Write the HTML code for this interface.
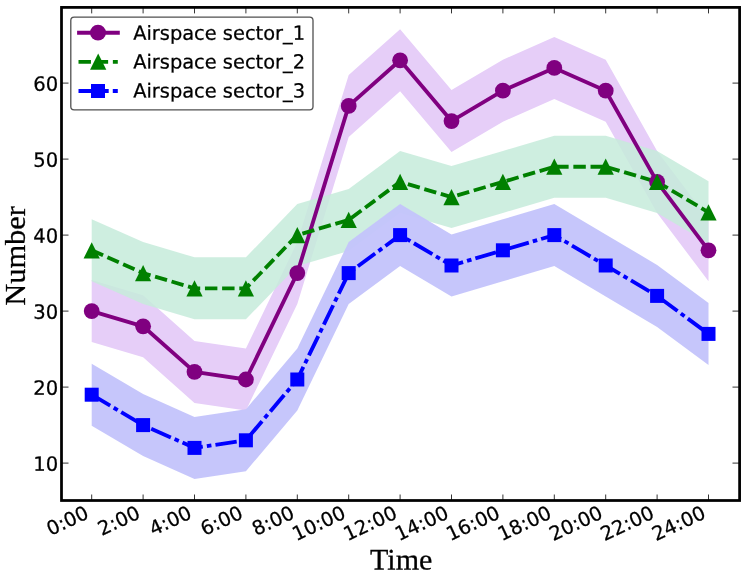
<!DOCTYPE html><html><head><meta charset="utf-8"><title>Airspace sectors</title>
<style>html,body{margin:0;padding:0;background:#fff}svg{display:block}.t{font-family:"DejaVu Sans","Liberation Sans",sans-serif;fill:#000;stroke:#000;stroke-width:0.25}.s{font-family:"Liberation Serif","DejaVu Serif",serif;fill:#000;stroke:#000;stroke-width:0.3}</style></head><body>
<svg width="745" height="574" viewBox="0 0 745 574">
<rect width="745" height="574" fill="#fff"/>
<polygon points="91.70,280.09 143.10,295.29 194.50,340.89 245.90,348.49 297.30,242.09 348.70,74.89 400.10,29.29 451.50,90.09 502.90,59.69 554.30,36.89 605.70,59.69 657.10,150.89 708.50,219.29 708.50,281.31 657.10,212.91 605.70,121.71 554.30,98.91 502.90,121.71 451.50,152.11 400.10,91.31 348.70,136.91 297.30,304.11 245.90,410.51 194.50,402.91 143.10,357.31 91.70,342.11" fill="#e6cef8" fill-opacity="1"/>
<polygon points="91.70,219.29 143.10,242.09 194.50,257.29 245.90,257.29 297.30,204.09 348.70,188.89 400.10,150.89 451.50,166.09 502.90,150.89 554.30,135.69 605.70,135.69 657.10,150.89 708.50,181.29 708.50,243.31 657.10,212.91 605.70,197.71 554.30,197.71 502.90,212.91 451.50,228.11 400.10,212.91 348.70,250.91 297.30,266.11 245.90,319.31 194.50,319.31 143.10,304.11 91.70,281.31" fill="#c6ebdb" fill-opacity="0.86"/>
<polygon points="91.70,363.69 143.10,394.09 194.50,416.89 245.90,409.29 297.30,348.49 348.70,242.09 400.10,204.09 451.50,234.49 502.90,219.29 554.30,204.09 605.70,234.49 657.10,264.89 708.50,302.89 708.50,364.91 657.10,326.91 605.70,296.51 554.30,266.11 502.90,281.31 451.50,296.51 400.10,266.11 348.70,304.11 297.30,410.51 245.90,471.31 194.50,478.91 143.10,456.11 91.70,425.71" fill="#c4c4fb" fill-opacity="0.96"/>
<polyline points="91.70,311.10 143.10,326.30 194.50,371.90 245.90,379.50 297.30,273.10 348.70,105.90 400.10,60.30 451.50,121.10 502.90,90.70 554.30,67.90 605.70,90.70 657.10,181.90 708.50,250.30" fill="none" stroke="#800080" stroke-width="3.85" stroke-linejoin="round"/>
<polyline points="91.70,250.30 143.10,273.10 194.50,288.30 245.90,288.30 297.30,235.10 348.70,219.90 400.10,181.90 451.50,197.10 502.90,181.90 554.30,166.70 605.70,166.70 657.10,181.90 708.50,212.30" fill="none" stroke="#008000" stroke-width="3.85" stroke-dasharray="12.45,4.73" stroke-linejoin="round"/>
<polyline points="91.70,394.70 143.10,425.10 194.50,447.90 245.90,440.30 297.30,379.50 348.70,273.10 400.10,235.10 451.50,265.50 502.90,250.30 554.30,235.10 605.70,265.50 657.10,295.90 708.50,333.90" fill="none" stroke="#0000ff" stroke-width="3.85" stroke-dasharray="21.5,4.1,4.6,4.08" stroke-linejoin="round"/>
<circle cx="91.70" cy="311.10" r="7.9" fill="#800080"/>
<circle cx="143.10" cy="326.30" r="7.9" fill="#800080"/>
<circle cx="194.50" cy="371.90" r="7.9" fill="#800080"/>
<circle cx="245.90" cy="379.50" r="7.9" fill="#800080"/>
<circle cx="297.30" cy="273.10" r="7.9" fill="#800080"/>
<circle cx="348.70" cy="105.90" r="7.9" fill="#800080"/>
<circle cx="400.10" cy="60.30" r="7.9" fill="#800080"/>
<circle cx="451.50" cy="121.10" r="7.9" fill="#800080"/>
<circle cx="502.90" cy="90.70" r="7.9" fill="#800080"/>
<circle cx="554.30" cy="67.90" r="7.9" fill="#800080"/>
<circle cx="605.70" cy="90.70" r="7.9" fill="#800080"/>
<circle cx="657.10" cy="181.90" r="7.9" fill="#800080"/>
<circle cx="708.50" cy="250.30" r="7.9" fill="#800080"/>
<polygon points="91.70,242.20 83.60,258.40 99.80,258.40" fill="#008000"/>
<polygon points="143.10,265.00 135.00,281.20 151.20,281.20" fill="#008000"/>
<polygon points="194.50,280.20 186.40,296.40 202.60,296.40" fill="#008000"/>
<polygon points="245.90,280.20 237.80,296.40 254.00,296.40" fill="#008000"/>
<polygon points="297.30,227.00 289.20,243.20 305.40,243.20" fill="#008000"/>
<polygon points="348.70,211.80 340.60,228.00 356.80,228.00" fill="#008000"/>
<polygon points="400.10,173.80 392.00,190.00 408.20,190.00" fill="#008000"/>
<polygon points="451.50,189.00 443.40,205.20 459.60,205.20" fill="#008000"/>
<polygon points="502.90,173.80 494.80,190.00 511.00,190.00" fill="#008000"/>
<polygon points="554.30,158.60 546.20,174.80 562.40,174.80" fill="#008000"/>
<polygon points="605.70,158.60 597.60,174.80 613.80,174.80" fill="#008000"/>
<polygon points="657.10,173.80 649.00,190.00 665.20,190.00" fill="#008000"/>
<polygon points="708.50,204.20 700.40,220.40 716.60,220.40" fill="#008000"/>
<rect x="84.70" y="387.70" width="14.00" height="14.00" fill="#0000ff"/>
<rect x="136.10" y="418.10" width="14.00" height="14.00" fill="#0000ff"/>
<rect x="187.50" y="440.90" width="14.00" height="14.00" fill="#0000ff"/>
<rect x="238.90" y="433.30" width="14.00" height="14.00" fill="#0000ff"/>
<rect x="290.30" y="372.50" width="14.00" height="14.00" fill="#0000ff"/>
<rect x="341.70" y="266.10" width="14.00" height="14.00" fill="#0000ff"/>
<rect x="393.10" y="228.10" width="14.00" height="14.00" fill="#0000ff"/>
<rect x="444.50" y="258.50" width="14.00" height="14.00" fill="#0000ff"/>
<rect x="495.90" y="243.30" width="14.00" height="14.00" fill="#0000ff"/>
<rect x="547.30" y="228.10" width="14.00" height="14.00" fill="#0000ff"/>
<rect x="598.70" y="258.50" width="14.00" height="14.00" fill="#0000ff"/>
<rect x="650.10" y="288.90" width="14.00" height="14.00" fill="#0000ff"/>
<rect x="701.50" y="326.90" width="14.00" height="14.00" fill="#0000ff"/>
<path d="M91.70 500.50v-6.00M91.70 7.40v6.00M143.10 500.50v-6.00M143.10 7.40v6.00M194.50 500.50v-6.00M194.50 7.40v6.00M245.90 500.50v-6.00M245.90 7.40v6.00M297.30 500.50v-6.00M297.30 7.40v6.00M348.70 500.50v-6.00M348.70 7.40v6.00M400.10 500.50v-6.00M400.10 7.40v6.00M451.50 500.50v-6.00M451.50 7.40v6.00M502.90 500.50v-6.00M502.90 7.40v6.00M554.30 500.50v-6.00M554.30 7.40v6.00M605.70 500.50v-6.00M605.70 7.40v6.00M657.10 500.50v-6.00M657.10 7.40v6.00M708.50 500.50v-6.00M708.50 7.40v6.00M61.50 463.10h7.00M739.60 463.10h-7.10M61.50 387.10h7.00M739.60 387.10h-7.10M61.50 311.10h7.00M739.60 311.10h-7.10M61.50 235.10h7.00M739.60 235.10h-7.10M61.50 159.10h7.00M739.60 159.10h-7.10M61.50 83.10h7.00M739.60 83.10h-7.10" stroke="#000" stroke-width="0.8" fill="none"/>
<rect x="61.50" y="7.40" width="678.10" height="493.10" fill="none" stroke="#000" stroke-width="2.75"/>
<text class="t" transform="translate(58.2,470.70) rotate(0.03)" font-size="19.6" text-anchor="end" stroke-width="0.33">10</text>
<text class="t" transform="translate(58.2,394.70) rotate(0.03)" font-size="19.6" text-anchor="end" stroke-width="0.33">20</text>
<text class="t" transform="translate(58.2,318.70) rotate(0.03)" font-size="19.6" text-anchor="end" stroke-width="0.33">30</text>
<text class="t" transform="translate(58.2,242.70) rotate(0.03)" font-size="19.6" text-anchor="end" stroke-width="0.33">40</text>
<text class="t" transform="translate(58.2,166.70) rotate(0.03)" font-size="19.6" text-anchor="end" stroke-width="0.33">50</text>
<text class="t" transform="translate(58.2,90.70) rotate(0.03)" font-size="19.6" text-anchor="end" stroke-width="0.33">60</text>
<text class="t" transform="translate(90.10,517.50) rotate(-25)" font-size="19.5" text-anchor="end" stroke-width="0.45">0:00</text>
<text class="t" transform="translate(141.50,517.50) rotate(-25)" font-size="19.5" text-anchor="end" stroke-width="0.45">2:00</text>
<text class="t" transform="translate(192.90,517.50) rotate(-25)" font-size="19.5" text-anchor="end" stroke-width="0.45">4:00</text>
<text class="t" transform="translate(244.30,517.50) rotate(-25)" font-size="19.5" text-anchor="end" stroke-width="0.45">6:00</text>
<text class="t" transform="translate(295.70,517.50) rotate(-25)" font-size="19.5" text-anchor="end" stroke-width="0.45">8:00</text>
<text class="t" transform="translate(347.10,517.50) rotate(-25)" font-size="19.5" text-anchor="end" stroke-width="0.45">10:00</text>
<text class="t" transform="translate(398.50,517.50) rotate(-25)" font-size="19.5" text-anchor="end" stroke-width="0.45">12:00</text>
<text class="t" transform="translate(449.90,517.50) rotate(-25)" font-size="19.5" text-anchor="end" stroke-width="0.45">14:00</text>
<text class="t" transform="translate(501.30,517.50) rotate(-25)" font-size="19.5" text-anchor="end" stroke-width="0.45">16:00</text>
<text class="t" transform="translate(552.70,517.50) rotate(-25)" font-size="19.5" text-anchor="end" stroke-width="0.45">18:00</text>
<text class="t" transform="translate(604.10,517.50) rotate(-25)" font-size="19.5" text-anchor="end" stroke-width="0.45">20:00</text>
<text class="t" transform="translate(655.50,517.50) rotate(-25)" font-size="19.5" text-anchor="end" stroke-width="0.45">22:00</text>
<text class="t" transform="translate(706.90,517.50) rotate(-25)" font-size="19.5" text-anchor="end" stroke-width="0.45">24:00</text>
<text class="s" transform="translate(401.2,569.4) rotate(0.03)" font-size="29.8" text-anchor="middle" textLength="62.3" lengthAdjust="spacingAndGlyphs">Time</text>
<text class="s" transform="translate(25.4,255.90) rotate(-90)" font-size="29.8" text-anchor="middle" textLength="99.6" lengthAdjust="spacingAndGlyphs">Number</text>
<rect x="70.8" y="17.1" width="242.2" height="92.8" rx="3.3" ry="3.3" fill="#fff" stroke="#505050" stroke-width="1.3"/>
<path d="M77.1 32.7H119.8" stroke="#800080" stroke-width="3.85"/>
<circle cx="98.00" cy="32.70" r="7.9" fill="#800080"/>
<path d="M78.5 61.8H117.8" stroke="#008000" stroke-width="3.85" stroke-dasharray="12.45,4.73"/>
<polygon points="98.20,53.50 90.10,69.70 106.30,69.70" fill="#008000"/>
<path d="M78.5 91.0H117.8" stroke="#0000ff" stroke-width="3.85" stroke-dasharray="21.5,4.1,4.6,4.08"/>
<rect x="91.00" y="84.00" width="14.00" height="14.00" fill="#0000ff"/>
<text class="t" transform="translate(133.2,39.70) rotate(0.03)" font-size="19.4" stroke-width="0.32" textLength="171.8" lengthAdjust="spacingAndGlyphs">Airspace sector_1</text>
<text class="t" transform="translate(133.2,68.50) rotate(0.03)" font-size="19.4" stroke-width="0.32" textLength="171.8" lengthAdjust="spacingAndGlyphs">Airspace sector_2</text>
<text class="t" transform="translate(133.2,97.50) rotate(0.03)" font-size="19.4" stroke-width="0.32" textLength="171.8" lengthAdjust="spacingAndGlyphs">Airspace sector_3</text>
</svg></body></html>
